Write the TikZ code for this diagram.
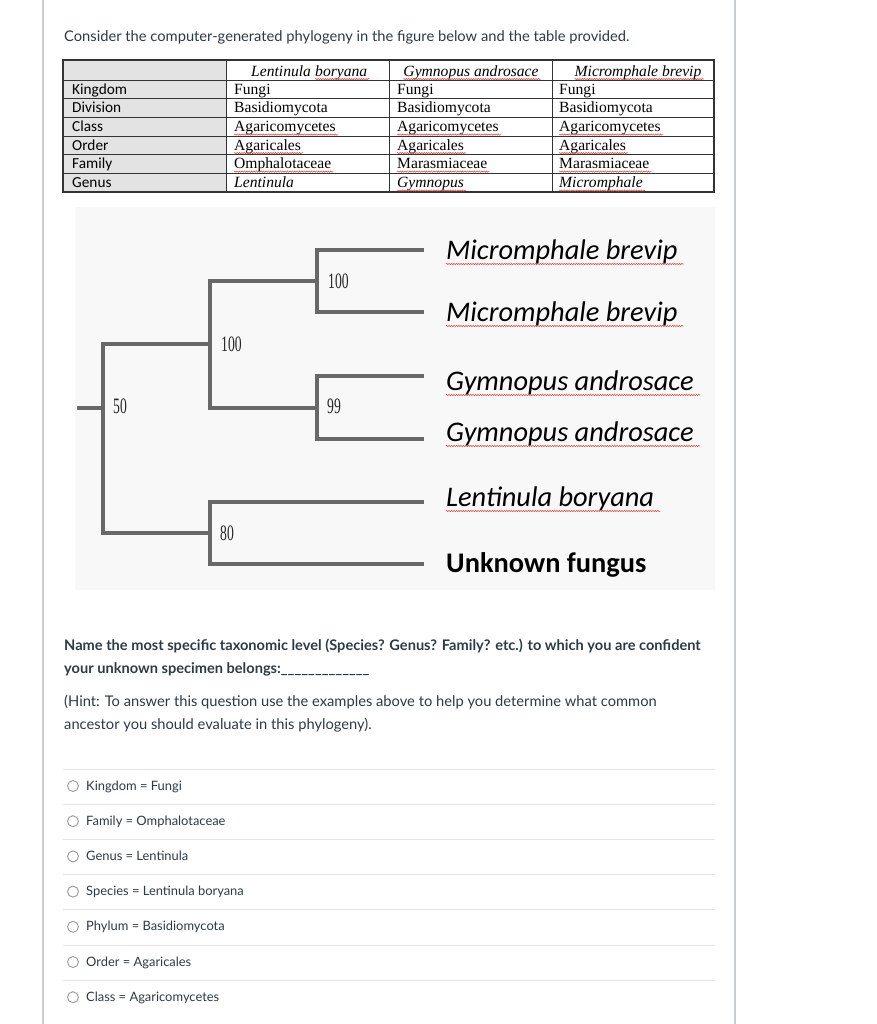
\documentclass[tikz,border=0pt]{standalone}
\usepackage{fontspec}
\setmainfont{Lato}
\newfontfamily\calibrifont{Carlito}
\newfontfamily\serifcell{Liberation Serif}
\usetikzlibrary{calc, decorations.pathmorphing}
\definecolor{InkGray}{HTML}{2D3B45}
\definecolor{EdgeGray}{HTML}{C7CDD1}
\definecolor{SepGray}{HTML}{E2E4E6}
\definecolor{CellGray}{HTML}{E3E3E3}
\definecolor{TreeGray}{HTML}{686868}
\definecolor{TreeBg}{HTML}{F8F8F8}
\definecolor{WaveRed}{HTML}{E0463C}

\begin{document}
\begin{tikzpicture}[
    x=1pt, y=-1pt,
    body/.style={anchor=base west, inner sep=0pt, text=InkGray, font=\fontsize{14.7}{16}\selectfont},
    bodyB/.style={body, font=\fontsize{14.6}{16}\selectfont\bfseries},
    opt/.style={body, font=\fontsize{12.9}{14}\selectfont},
    radio/.style={circle, draw=gray!80, line width=0.9pt, minimum size=11pt, inner sep=0pt},
    rank/.style={anchor=base west, inner sep=0pt, font=\calibrifont\fontsize{15.3}{16}\selectfont},
    cell/.style={anchor=base west, inner sep=0pt, font=\serifcell\fontsize{15.6}{16}\selectfont},
    head/.style={anchor=base, inner sep=0pt, font=\serifcell\itshape\fontsize{15.6}{16}\selectfont},
    taxon/.style={anchor=base west, inner sep=0pt, font=\calibrifont\itshape\fontsize{28.4}{30}\selectfont},
    boot/.style={anchor=base west, inner sep=0pt, text=black!85, font=\serifcell\fontsize{22}{24}\selectfont},
    branch/.style={draw=TreeGray, line width=3.2pt},
    spell/.style={draw=WaveRed, line width=0.5pt, decorate,
      decoration={snake, segment length=2.4pt, amplitude=0.7pt}},
  ]
  \fill[white] (0,0) rectangle (876,1024);
  \useasboundingbox (0,0) rectangle (876,1024);
  % page edges
  \draw[EdgeGray, line width=1.2pt] (43,0) -- (43,1024);
  \draw[EdgeGray, line width=1.2pt] (735,0) -- (735,1024);
  \node[body] (intro) at (64,42) {Consider the computer-generated phylogeny in the figure below and the table provided.};

  % taxonomy table
  \def\tL{63}\def\tA{226}\def\tB{389}\def\tC{552}\def\tR{714}
  \fill[CellGray] (\tL,60) rectangle (\tA,192);
  \foreach \yy in {80,98,117,136,154,173}
    \draw[black!80, line width=0.8pt] (\tL,\yy) -- (\tR,\yy);
  \foreach \xx in {\tA,\tB,\tC}
    \draw[black!80, line width=0.8pt] (\xx,60) -- (\xx,192);
  \draw[black!80, line width=1.2pt] (\tL,60) rectangle (\tR,192);
  \node[head, anchor=base west] (hLen1) at (251,76.5) {Lentinula};
  \node[head, anchor=base west] (hLen2) at ([xshift=3.8pt]hLen1.base east) {boryana};
  \node[head] (hGym) at (471,76.5) {Gymnopus androsace};
  \node[head] (hMic) at (638,76.5) {Micromphale brevip};
  \foreach \rk/\ca/\cb/\cc/\yb [count=\i] in {
      Kingdom/Fungi/Fungi/Fungi/94.5,
      Division/Basidiomycota/Basidiomycota/Basidiomycota/113,
      Class/Agaricomycetes/Agaricomycetes/Agaricomycetes/132,
      Order/Agaricales/Agaricales/Agaricales/150.5,
      Family/Omphalotaceae/Marasmiaceae/Marasmiaceae/169,
      Genus/\textit{Lentinula}/\textit{Gymnopus}/\textit{Micromphale}/188}{
    \node[rank] (k\i) at (72,\yb) {\rk};
    \node[cell] (a\i) at (234,\yb) {\ca};
    \node[cell] (b\i) at (397,\yb) {\cb};
    \node[cell] (c\i) at (559,\yb) {\cc};
  }
  \foreach \n in {hLen2,hGym,hMic,a3,a4,a5,b3,b4,b5,b6,c3,c4,c5,c6}
    \draw[spell] ([yshift=-2.6pt]\n.base west) -- ([yshift=-2.6pt,xshift=2pt]\n.base east);

  % phylogeny
  \fill[TreeBg] (75,207) rectangle (715,590);
  \coordinate (stub) at (77,408);
  \coordinate (root) at (103,408);
  \coordinate (nUp) at (210,344);
  \coordinate (nMic) at (317,281);
  \coordinate (nGym) at (317,408);
  \coordinate (nLow) at (210,533);
  \coordinate (e1) at (424,250);
  \coordinate (e2) at (424,312);
  \coordinate (e3) at (424,376);
  \coordinate (e4) at (424,439);
  \coordinate (e5) at (424,502);
  \coordinate (e6) at (424,564);
  \draw[branch] (stub) -- (root);
  \draw[branch] (root) |- (nUp);
  \draw[branch] (root) |- (nLow);
  \draw[branch] (nUp) |- (nMic);
  \draw[branch] (nUp) |- (nGym);
  \draw[branch] (nMic) |- (e1);
  \draw[branch] (nMic) |- (e2);
  \draw[branch] (nGym) |- (e3);
  \draw[branch] (nGym) |- (e4);
  \draw[branch] (nLow) |- (e5);
  \draw[branch] (nLow) |- (e6);
  \node[boot] (bs50) at (113,413) {\scalebox{0.62}[1]{50}};
  \node[boot] (bsUp) at (221,351) {\scalebox{0.62}[1]{100}};
  \node[boot] (bsMic) at (328,288) {\scalebox{0.62}[1]{100}};
  \node[boot] (bsGym) at (327,413) {\scalebox{0.62}[1]{99}};
  \node[boot] (bsLow) at (220,540) {\scalebox{0.62}[1]{80}};
  \node[taxon] (t1) at (446,259.5) {Micromphale brevip};
  \node[taxon] (t2) at (446,321.5) {Micromphale brevip};
  \node[taxon] (t3) at (446,390.5) {Gymnopus androsace};
  \node[taxon] (t4) at (446,441.5) {Gymnopus androsace};
  \node[taxon] (t5) at (446,506.5) {Lentinula boryana};
  \node[taxon, font=\calibrifont\bfseries\fontsize{28.4}{30}\selectfont] (t6) at (446,572.5) {Unknown fungus};
  \foreach \n in {t1,t2,t3,t4,t5}
    \draw[spell] ([yshift=-4.5pt]\n.base west) -- ([yshift=-4.5pt,xshift=6pt]\n.base east);

  % question
  \node[bodyB] (q1) at (64,650.5) {Name the most specific taxonomic level (Species? Genus? Family? etc.) to which you are confident};
  \node[bodyB] (q2) at (64,673) {your unknown specimen belongs:\_\_\_\_\_\_\_\_\_\_\_\_\_};
  \node[body] (h1) at (64,706.5) {(Hint: To answer this question use the examples above to help you determine what common};
  \node[body] (h2) at (64,729.5) {ancestor you should evaluate in this phylogeny).};

  % answer choices
  \foreach \txt [count=\i] in {Kingdom = Fungi, Family = Omphalotaceae, Genus = Lentinula,
      Species = Lentinula boryana, Phylum = Basidiomycota, Order = Agaricales, Class = Agaricomycetes}{
    \pgfmathsetmacro\yy{769+35.2*(\i-1)}
    \draw[SepGray, line width=1pt] (63,\yy) -- (715,\yy);
    \node[radio] (r\i) at (73,\yy+17) {};
    \node[opt] (o\i) at (86,\yy+21) {\txt};
  }
\end{tikzpicture}
\end{document}
